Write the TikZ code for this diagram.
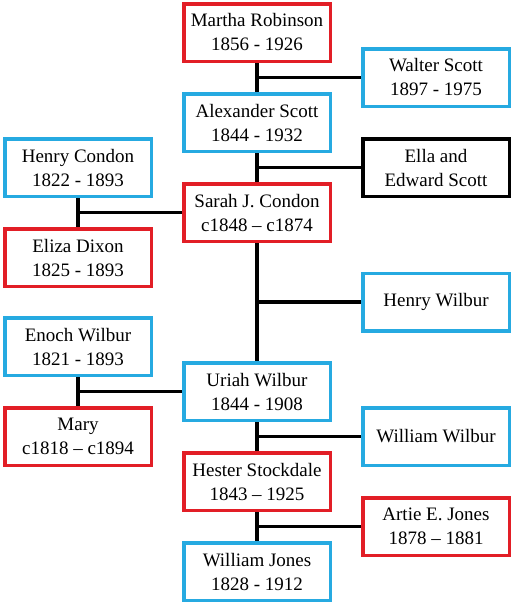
\documentclass[tikz,border=0pt]{standalone}
\usepackage{fontspec}
\setmainfont{Liberation Serif}
\usetikzlibrary{positioning, calc}
\definecolor{rodfarve}{RGB}{226,30,38}
\definecolor{blaafarve}{RGB}{38,170,225}

\begin{document}
\begin{tikzpicture}[
    node distance = 29pt and 29pt,
    punkt/.style = {rectangle, draw, line width=3.5pt, fill=white, align=center,
                    minimum width=146.5pt, minimum height=57.5pt, inner sep=0pt},
    kvinde/.style = {punkt, draw=rodfarve},
    mand/.style = {punkt, draw=blaafarve},
    andre/.style = {punkt, draw=black},
    linje/.style = {black, line width=3.5pt},
    font=\fontsize{19pt}{24pt}\selectfont
    ]

  \useasboundingbox (0,0) rectangle (515pt,-605pt);

  % midterlinjen
  \node[kvinde] (martha) at (257pt,-32.5pt) {Martha Robinson\\1856 - 1926} ;
  \node[mand] (alexander) [below=of martha] {Alexander Scott\\1844 - 1932} ;
  \node[kvinde] (sarah) [below=of alexander] {Sarah J. Condon\\c1848 -- c1874} ;
  \node[mand] (uriah) [below=118pt of sarah] {Uriah Wilbur\\1844 - 1908} ;
  \node[kvinde] (hester) [below=of uriah] {Hester Stockdale\\1843 -- 1925} ;
  \node[mand] (wjones) [below=of hester] {William Jones\\1828 - 1912} ;

  \coordinate (j1) at ($(martha.south)!.5!(alexander.north)$) ;
  \coordinate (j2) at ($(alexander.south)!.5!(sarah.north)$) ;
  \coordinate (j3) at ($(sarah.south)!.5!(uriah.north)$) ;
  \coordinate (j4) at ($(uriah.south)!.5!(hester.north)$) ;
  \coordinate (j5) at ($(hester.south)!.5!(wjones.north)$) ;

  % hoejre side
  \node[mand] (walter) [right=104pt of j1] {Walter Scott\\1897 - 1975} ;
  \node[andre] (ella) [right=104pt of j2] {Ella and\\Edward Scott} ;
  \node[mand] (hwilbur) [right=104pt of j3] {Henry Wilbur} ;
  \node[mand] (wwilbur) [right=104pt of j4] {William Wilbur} ;
  \node[kvinde] (artie) [right=104pt of j5] {Artie E. Jones\\1878 -- 1881} ;

  % venstre side
  \node[mand] (hcondon) [above left=14.5pt and 29pt of sarah.west] {Henry Condon\\1822 - 1893} ;
  \node[kvinde] (eliza) [below left=14.5pt and 29pt of sarah.west] {Eliza Dixon\\1825 - 1893} ;
  \node[mand] (enoch) [above left=14.5pt and 29pt of uriah.west] {Enoch Wilbur\\1821 - 1893} ;
  \node[kvinde] (mary) [below left=14.5pt and 29pt of uriah.west] {Mary\\c1818 -- c1894} ;

  \coordinate (k1) at ($(hcondon.south)!.5!(eliza.north)$) ;
  \coordinate (k2) at ($(enoch.south)!.5!(mary.north)$) ;

  \draw[linje]
  (martha) -- (alexander)
  (alexander) -- (sarah)
  (sarah) -- (uriah)
  (uriah) -- (hester)
  (hester) -- (wjones)

  (j1) -- (walter)
  (j2) -- (ella)
  (j3) -- (hwilbur)
  (j4) -- (wwilbur)
  (j5) -- (artie)

  (hcondon) -- (eliza)
  (enoch) -- (mary)
  (k1) -- (sarah)
  (k2) -- (uriah) ;

\end{tikzpicture}
\end{document}
